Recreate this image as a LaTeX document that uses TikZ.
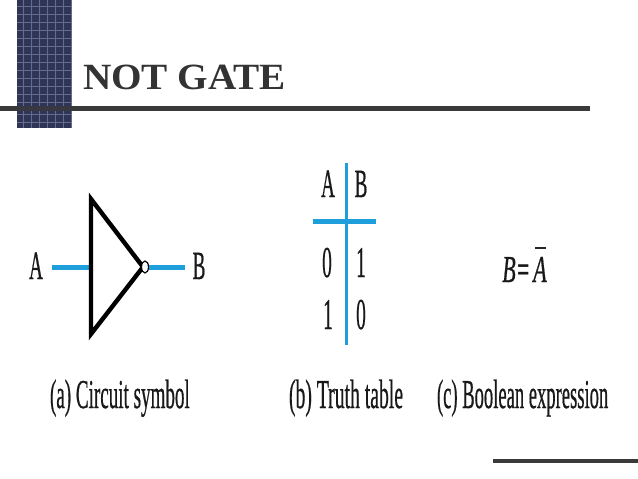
\documentclass[tikz,border=0pt]{standalone}
\usepackage{fontspec}
\usetikzlibrary{shapes.geometric}
\setmainfont{Liberation Serif}
\newfontfamily\heavy[FakeBold=0.8]{Liberation Serif}
\definecolor{wireblue}{HTML}{1E9FDC}
\definecolor{blockblue}{HTML}{2F3557}
\definecolor{gridline}{HTML}{666C8C}
\definecolor{barcol}{HTML}{3A3A3A}
\definecolor{titlecol}{HTML}{333333}
\newcommand{\nar}[2][0.48]{\scalebox{#1}[1]{#2}}
\tikzset{
  txt/.style={inner sep=0pt,outer sep=0pt,anchor=base,text=black!90,font=\fontsize{40}{40}\selectfont\heavy},
  digit/.style={txt,font=\fontsize{44}{44}\selectfont\heavy},
  eqtxt/.style={txt,font=\fontsize{38}{38}\selectfont\heavy\itshape},
  capt/.style={txt,anchor=base west,font=\fontsize{41}{41}\selectfont\heavy},
  wire/.style={draw=wireblue,line width=5pt},
  tablerule/.style={draw=wireblue},
  gateline/.style={draw=black,line width=4.4pt,line join=miter}
}
\begin{document}
\begin{tikzpicture}[x=1pt,y=-1pt]
\useasboundingbox (0,0) rectangle (638,479);
% block and bars
\fill[barcol] (0,105.5) rectangle (590,111);
\fill[blockblue] (17,0) rectangle (72,128);
\foreach \xx in {23,31,39,47,55,63,71}
  \draw[gridline,line width=0.5pt] (\xx,0) -- (\xx,128);
\foreach \yy in {6,14,22,30,38,46,54,62,70,78,86,94,102,114,122}
  \draw[gridline,line width=0.5pt] (17,\yy) -- (72,\yy);
\fill[barcol!80!blockblue] (17,105.5) rectangle (72,111);
\fill[barcol] (493,458.5) rectangle (638,463);
\node[txt,anchor=base west,text=titlecol,font=\fontsize{37}{37}\selectfont\bfseries] (title) at (83,89) {\nar[1.06]{NOT GATE}};
% gate
\coordinate (gt) at (91,199);
\coordinate (gb) at (91,334);
\coordinate (gtip) at (143,267);
\coordinate (gin) at (91,267);
\coordinate (aend) at (52,267);
\coordinate (bend) at (185,267);
\draw[wire] (aend) -- (gin);
\draw[gateline] (gt) -- (gb) -- (gtip) -- cycle;
\node[draw=black,fill=white,line width=1.2pt,ellipse,minimum width=7pt,minimum height=12pt,inner sep=0pt] (bubble) at (145,267) {};
\draw[wire] (bubble.east) -- (bend);
\node[txt] (lA) at (36,279) {\nar{A}};
\node[txt] (lB) at (199,279) {\nar{B}};
% truth table
\coordinate (vt) at (346,163);
\coordinate (vb) at (346,345);
\coordinate (hl) at (313,221);
\coordinate (hr) at (376,221);
\draw[tablerule,line width=3pt] (vt) -- (vb);
\draw[tablerule,line width=5pt] (hl) -- (hr);
\node[txt] (tA) at (328,197) {\nar{A}};
\node[txt] (tB) at (361,197) {\nar{B}};
\node[digit] (t00) at (327,277) {\nar[0.44]{0}};
\node[digit] (t01) at (361,277) {\nar[0.44]{1}};
\node[digit] (t10) at (328,329) {\nar[0.44]{1}};
\node[digit] (t11) at (361,329) {\nar[0.44]{0}};
% expression
\node[eqtxt] (eqB) at (509,282) {\nar[0.58]{B}};
\node[txt,font=\fontsize{38}{38}\selectfont\bfseries] (eqE) at (524,282) {\nar[0.58]{=}};
\node[eqtxt] (eqA) at (540,282) {\nar[0.58]{A}};
\coordinate (ol) at (535,248);
\coordinate (or) at (546,248);
\draw[black!85,line width=1.8pt] (ol) -- (or);
% captions
\node[capt] (ca) at (50,408) {\nar[0.465]{(a) Circuit symbol}};
\node[capt] (cb) at (289,408) {\nar[0.48]{(b) Truth table}};
\node[capt] (cc) at (437,408) {\nar[0.453]{(c) Boolean expression}};
\end{tikzpicture}
\end{document}
